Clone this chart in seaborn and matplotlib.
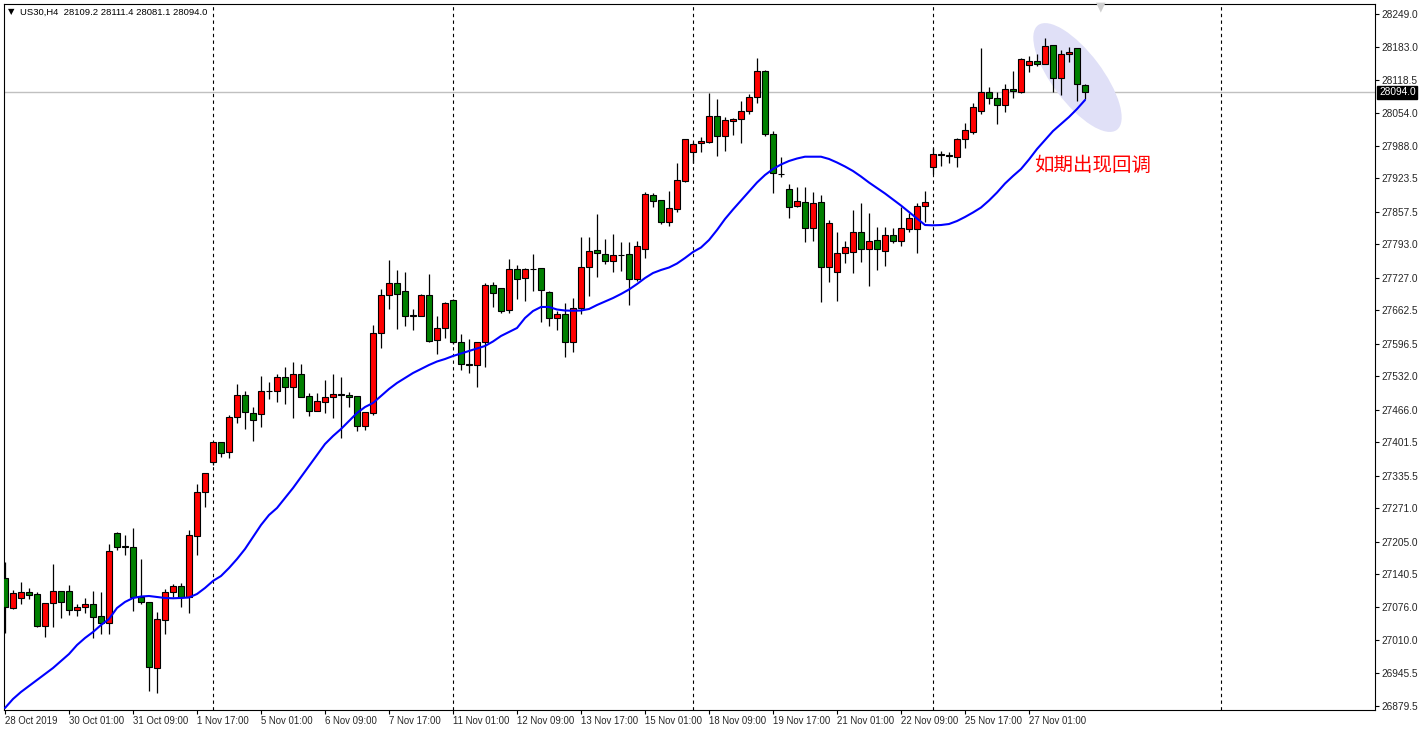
import numpy as np
import pandas as pd
import matplotlib
matplotlib.use("Agg")
import matplotlib.pyplot as plt
import matplotlib.transforms as mtrans
from matplotlib.patches import Ellipse
import seaborn as sns

# US30 H4 candles, 28 Oct 17:00 .. 28 Nov 2019
open_ = [27132.8, 27074.1, 27093.9, 27104.5, 27100.6, 27038.4, 27082.8, 27107.1, 27107.1, 27068.9,
         27074.9, 27080.8, 27057.0, 27043.1, 27221.3, 27195.6, 27193.6, 27094.6, 27084.8, 26954.1,
         27049.1, 27104.5, 27116.4, 27094.6, 27216.5, 27302.4, 27361.8, 27401.4, 27381.6, 27450.9,
         27494.4, 27458.8, 27456.9, 27502.9, 27502.3, 27530.0, 27510.2, 27536.0, 27492.4, 27464.0,
         27481.7, 27490.6, 27497.0, 27494.4, 27493.2, 27434.4, 27460.0, 27617.1, 27692.3, 27716.0,
         27700.2, 27652.5, 27651.9, 27692.9, 27604.4, 27627.0, 27682.4, 27599.3, 27556.7, 27553.8,
         27599.3, 27712.7, 27706.2, 27662.6, 27743.8, 27726.0, 27743.8, 27746.0, 27698.5, 27647.0,
         27655.6, 27600.5, 27666.6, 27748.0, 27782.2, 27773.5, 27760.8, 27771.5, 27773.5, 27724.0,
         27784.5, 27890.8, 27880.0, 27837.4, 27862.5, 27919.1, 27976.5, 27993.1, 27996.3, 28046.5,
         28006.9, 28037.9, 28041.8, 28056.4, 28084.1, 28136.2, 28010.9, 27932.9, 27902.1, 27868.4,
         27876.3, 27824.9, 27876.3, 27747.7, 27737.8, 27775.4, 27778.0, 27817.0, 27783.3, 27801.2,
         27779.4, 27811.0, 27799.8, 27822.9, 27822.9, 27868.4, 27945.6, 27970.5, 27969.5, 27966.6,
         28001.0, 28016.1, 28056.4, 28094.0, 28082.2, 28068.3, 28100.0, 28095.2, 28147.5, 28155.4,
         28150.6, 28187.7, 28121.7, 28169.2, 28181.1, 28109.2]
high = [27164.5, 27109.1, 27124.9, 27112.5, 27105.1, 27082.8, 27160.5, 27107.1, 27118.4, 27081.4,
        27092.7, 27107.1, 27104.5, 27200.2, 27224.5, 27217.9, 27231.8, 27170.4, 27084.8, 27065.6,
        27110.5, 27121.0, 27122.3, 27227.8, 27318.9, 27340.0, 27401.4, 27401.4, 27455.4, 27516.8,
        27502.3, 27470.7, 27532.6, 27519.9, 27536.6, 27551.0, 27559.7, 27555.8, 27498.3, 27498.3,
        27524.7, 27536.6, 27531.2, 27500.3, 27493.2, 27460.9, 27633.5, 27704.2, 27762.2, 27742.5,
        27738.0, 27664.6, 27694.9, 27734.5, 27651.3, 27678.4, 27684.4, 27615.1, 27605.2, 27599.3,
        27716.0, 27718.6, 27706.2, 27764.1, 27752.3, 27746.9, 27773.4, 27746.0, 27701.4, 27661.5,
        27677.6, 27687.5, 27807.1, 27808.3, 27853.2, 27803.7, 27813.6, 27798.4, 27798.4, 27799.8,
        27897.3, 27894.2, 27880.3, 27898.7, 27953.5, 28001.0, 27996.3, 28005.0, 28093.2, 28080.8,
        28045.2, 28043.8, 28076.8, 28090.7, 28162.5, 28138.2, 28017.4, 27966.6, 27912.0, 27907.2,
        27907.2, 27896.1, 27890.2, 27841.3, 27818.2, 27799.8, 27861.1, 27874.4, 27854.6, 27826.9,
        27826.9, 27825.5, 27867.6, 27855.8, 27874.8, 27898.7, 27983.2, 27978.5, 27976.5, 28004.2,
        28033.9, 28073.5, 28182.3, 28103.9, 28094.0, 28110.5, 28136.2, 28162.5, 28165.9, 28169.2,
        28202.1, 28187.7, 28177.8, 28183.1, 28181.1, 28111.4]
low = [27024.0, 27072.1, 27082.0, 27090.7, 27036.5, 27016.7, 27036.5, 27052.9, 27059.6, 27058.2,
       27064.2, 27014.7, 27021.3, 27021.3, 27188.3, 27178.4, 27067.5, 27080.8, 26909.8, 26905.8,
       27021.3, 27094.6, 27074.9, 27064.2, 27178.4, 27273.9, 27356.5, 27372.9, 27369.9, 27439.0,
       27427.3, 27403.4, 27432.5, 27487.1, 27481.7, 27477.2, 27449.5, 27490.6, 27454.0, 27463.4,
       27458.8, 27448.9, 27409.3, 27470.7, 27424.6, 27425.9, 27455.4, 27588.6, 27665.2, 27625.6,
       27632.1, 27623.6, 27651.9, 27600.5, 27576.7, 27607.2, 27596.0, 27544.5, 27539.1, 27511.4,
       27551.0, 27669.7, 27657.9, 27656.7, 27684.4, 27681.6, 27701.4, 27640.0, 27632.1, 27623.6,
       27569.6, 27580.7, 27655.6, 27690.9, 27729.1, 27754.2, 27737.8, 27741.0, 27673.7, 27720.6,
       27766.7, 27867.6, 27832.8, 27829.4, 27857.0, 27917.1, 27953.5, 27976.5, 27994.3, 27968.6,
       27978.5, 28009.5, 27994.3, 28051.1, 28072.3, 28007.6, 27894.2, 27927.0, 27844.7, 27866.5,
       27797.2, 27800.4, 27679.6, 27718.0, 27681.6, 27755.6, 27735.8, 27758.8, 27711.3, 27742.4,
       27750.9, 27795.2, 27790.5, 27817.6, 27775.4, 27838.0, 27931.8, 27948.8, 27954.7, 27946.8,
       27984.4, 28011.5, 28050.5, 28070.3, 28030.7, 28054.5, 28082.2, 28092.1, 28134.8, 28146.1,
       28149.4, 28095.2, 28088.7, 28153.4, 28077.4, 28081.1]
close = [27075.4, 27102.6, 27104.5, 27099.8, 27038.4, 27082.8, 27107.1, 27084.8, 27068.9, 27074.9,
         27080.8, 27056.2, 27043.1, 27185.7, 27193.6, 27194.2, 27094.6, 27084.8, 26956.1, 27051.1,
         27104.5, 27116.4, 27094.6, 27217.3, 27302.4, 27340.0, 27401.4, 27379.6, 27450.9, 27494.4,
         27460.9, 27445.0, 27503.5, 27503.5, 27530.0, 27510.2, 27536.0, 27490.6, 27464.0, 27483.1,
         27491.6, 27497.0, 27495.6, 27490.6, 27434.4, 27460.9, 27617.1, 27692.3, 27716.0, 27694.3,
         27651.9, 27651.9, 27692.9, 27602.4, 27627.0, 27676.5, 27599.3, 27556.7, 27554.7, 27599.3,
         27712.7, 27697.8, 27661.9, 27743.8, 27724.0, 27743.8, 27744.4, 27702.2, 27647.0, 27655.0,
         27600.5, 27666.6, 27748.0, 27780.2, 27775.4, 27760.8, 27772.1, 27772.5, 27724.0, 27789.3,
         27892.2, 27879.5, 27837.4, 27864.5, 27920.5, 28001.0, 27991.1, 27997.7, 28046.5, 28008.1,
         28038.6, 28041.2, 28057.0, 28084.7, 28136.2, 28010.9, 27933.7, 27932.3, 27868.0, 27878.3,
         27824.9, 27874.4, 27747.7, 27834.8, 27775.4, 27787.3, 27817.0, 27783.9, 27799.8, 27783.3,
         27811.0, 27799.8, 27824.9, 27844.7, 27868.4, 27876.3, 27971.3, 27971.5, 27968.5, 28001.6,
         28019.4, 28064.4, 28094.0, 28082.2, 28068.3, 28100.0, 28096.0, 28159.3, 28155.4, 28150.6,
         28185.7, 28121.7, 28169.2, 28173.2, 28110.5, 28094.0]
# moving average line (blue)
ma = [26875.6, 26893.4, 26907.3, 26919.1, 26931.0, 26942.9, 26954.7, 26968.6, 26982.4, 27000.2,
      27014.1, 27025.9, 27039.8, 27051.7, 27073.5, 27085.4, 27093.3, 27096.2, 27097.2, 27095.3,
      27093.3, 27092.7, 27093.3, 27094.3, 27101.2, 27113.1, 27127.0, 27136.8, 27152.6, 27170.4,
      27190.2, 27214.0, 27237.7, 27257.5, 27271.4, 27291.1, 27310.9, 27332.7, 27354.5, 27376.2,
      27398.0, 27413.8, 27427.7, 27443.5, 27459.4, 27471.2, 27479.2, 27493.0, 27506.9, 27518.8,
      27528.6, 27538.5, 27546.5, 27554.4, 27561.3, 27566.2, 27572.2, 27577.1, 27582.1, 27587.0,
      27592.0, 27600.9, 27611.8, 27619.7, 27627.6, 27647.4, 27661.2, 27669.2, 27669.2, 27664.2,
      27662.2, 27661.8, 27662.2, 27665.2, 27673.1, 27680.0, 27686.9, 27694.9, 27703.8, 27714.6,
      27726.5, 27736.4, 27742.4, 27747.3, 27755.2, 27766.1, 27778.0, 27786.9, 27801.7, 27821.5,
      27843.3, 27862.1, 27879.9, 27897.7, 27915.5, 27930.4, 27942.2, 27951.2, 27958.1, 27963.0,
      27966.6, 27966.6, 27966.6, 27962.1, 27955.1, 27947.2, 27938.3, 27927.4, 27915.5, 27904.6,
      27893.8, 27881.9, 27870.0, 27857.1, 27844.3, 27831.4, 27830.8, 27831.4, 27833.4, 27839.3,
      27847.3, 27856.2, 27866.0, 27879.9, 27895.7, 27913.5, 27928.4, 27942.2, 27961.1, 27981.8,
      27999.6, 28017.4, 28031.3, 28045.2, 28061.0, 28078.8]

date_labels = ["28 Oct 2019", "30 Oct 01:00", "31 Oct 09:00", "1 Nov 17:00", "5 Nov 01:00",
               "6 Nov 09:00", "7 Nov 17:00", "11 Nov 01:00", "12 Nov 09:00", "13 Nov 17:00",
               "15 Nov 01:00", "18 Nov 09:00", "19 Nov 17:00", "21 Nov 01:00", "22 Nov 09:00",
               "25 Nov 17:00", "27 Nov 01:00"]
price_ticks = [28249.0, 28183.0, 28118.5, 28054.0, 27988.0, 27923.5, 27857.5, 27793.0, 27727.0,
               27662.5, 27596.5, 27532.0, 27466.0, 27401.5, 27335.5, 27271.0, 27205.0, 27140.5,
               27076.0, 27010.0, 26945.5, 26879.5]
week_starts = [26, 56, 86, 116, 152]   # bar index of each Monday 01:00
last_price = 28094.0
header = "US30,H4  28109.2 28111.4 28081.1 28094.0"
note = "如期出现回调"

df = pd.DataFrame({"bar": np.arange(len(close)), "open": open_, "high": high,
                   "low": low, "close": close, "ma": ma})

sns.set_theme(style="white")
plt.rcParams['font.family'] = ['Liberation Sans', 'DejaVu Sans', 'Noto Sans CJK SC']

fig = plt.figure(figsize=(14.24, 7.32), dpi=100)
ax = fig.add_axes([4 / 1424, 22 / 732, 1371 / 1424, 706 / 732])
ax.set_facecolor("white")

# separators + last price line
for w in week_starts:
    ax.axvline(w, color="black", lw=0.8, dashes=(3, 3), zorder=1)
ax.axhline(last_price, color="#c0c0c0", lw=1, zorder=1)

# highlight ellipse (size in pixels, centred on data point)
ell = Ellipse((0, 0), width=131, height=50, angle=-53, facecolor="#e0e0f7", edgecolor="none",
              transform=mtrans.Affine2D() + mtrans.ScaledTranslation(134.06, 28123.3, ax.transData),
              zorder=1.2)
ax.add_patch(ell)

up = df["close"] >= df["open"]
ax.vlines(df["bar"], df["low"], df["high"], color="black", lw=0.9, zorder=2)
body_lo = np.minimum(df["open"], df["close"])
body_h = np.maximum((df["close"] - df["open"]).abs(), 0.3)
ax.bar(df["bar"], body_h, bottom=body_lo, width=0.64,
       color=np.where(up, "#ff0000", "#008000"), edgecolor="black", linewidth=0.8, zorder=3)

sns.lineplot(data=df, x="bar", y="ma", color="#0000ff", lw=1.5, ax=ax, zorder=4)

ax.set_xlim(-0.125, 171.25)
ax.set_ylim(26871.6, 28268.8)

ax.set_xticks(np.arange(0, 8 * len(date_labels), 8))
ax.set_xticklabels(date_labels, ha="left", fontsize=6.9)
ax.yaxis.tick_right()
ax.set_yticks(price_ticks)
ax.set_yticklabels([f"{p:.1f}" for p in price_ticks], fontsize=7.3)
ax.tick_params(axis="both", direction="out", length=3, width=0.8, color="black", pad=1.5,
               bottom=True, right=True, left=False)
ax.set_xlabel("")
ax.set_ylabel("")
for s in ax.spines.values():
    s.set_color("black")
    s.set_linewidth(0.8)

ax.annotate(f"{last_price:.1f}", xy=(1, last_price), xycoords=("axes fraction", "data"),
            xytext=(4, 0), textcoords="offset pixels", ha="left", va="center", fontsize=7.3,
            color="white", bbox=dict(boxstyle="square,pad=0.15", fc="black", ec="black"))

ax.annotate("▼", xy=(0, 1), xycoords="axes fraction", xytext=(4, -8), textcoords="offset pixels",
            ha="left", va="center", fontsize=6, color="black", family="DejaVu Sans")
ax.annotate(header, xy=(0, 1), xycoords="axes fraction", xytext=(16, -8),
            textcoords="offset pixels", ha="left", va="center", fontsize=6.8, color="black")
ax.annotate("▼", xy=(137, 1), xycoords=("data", "axes fraction"), xytext=(0, -3),
            textcoords="offset pixels", ha="center", va="center", fontsize=9, color="#d0d0d0",
            family="DejaVu Sans")

ax.text(128.6, 27950.2, note, color="#ff0000", fontsize=14, ha="left", va="center",
        family=["Noto Sans CJK SC", "DejaVu Sans"], zorder=5)

fig.savefig("out.png", dpi=100, facecolor="white")
